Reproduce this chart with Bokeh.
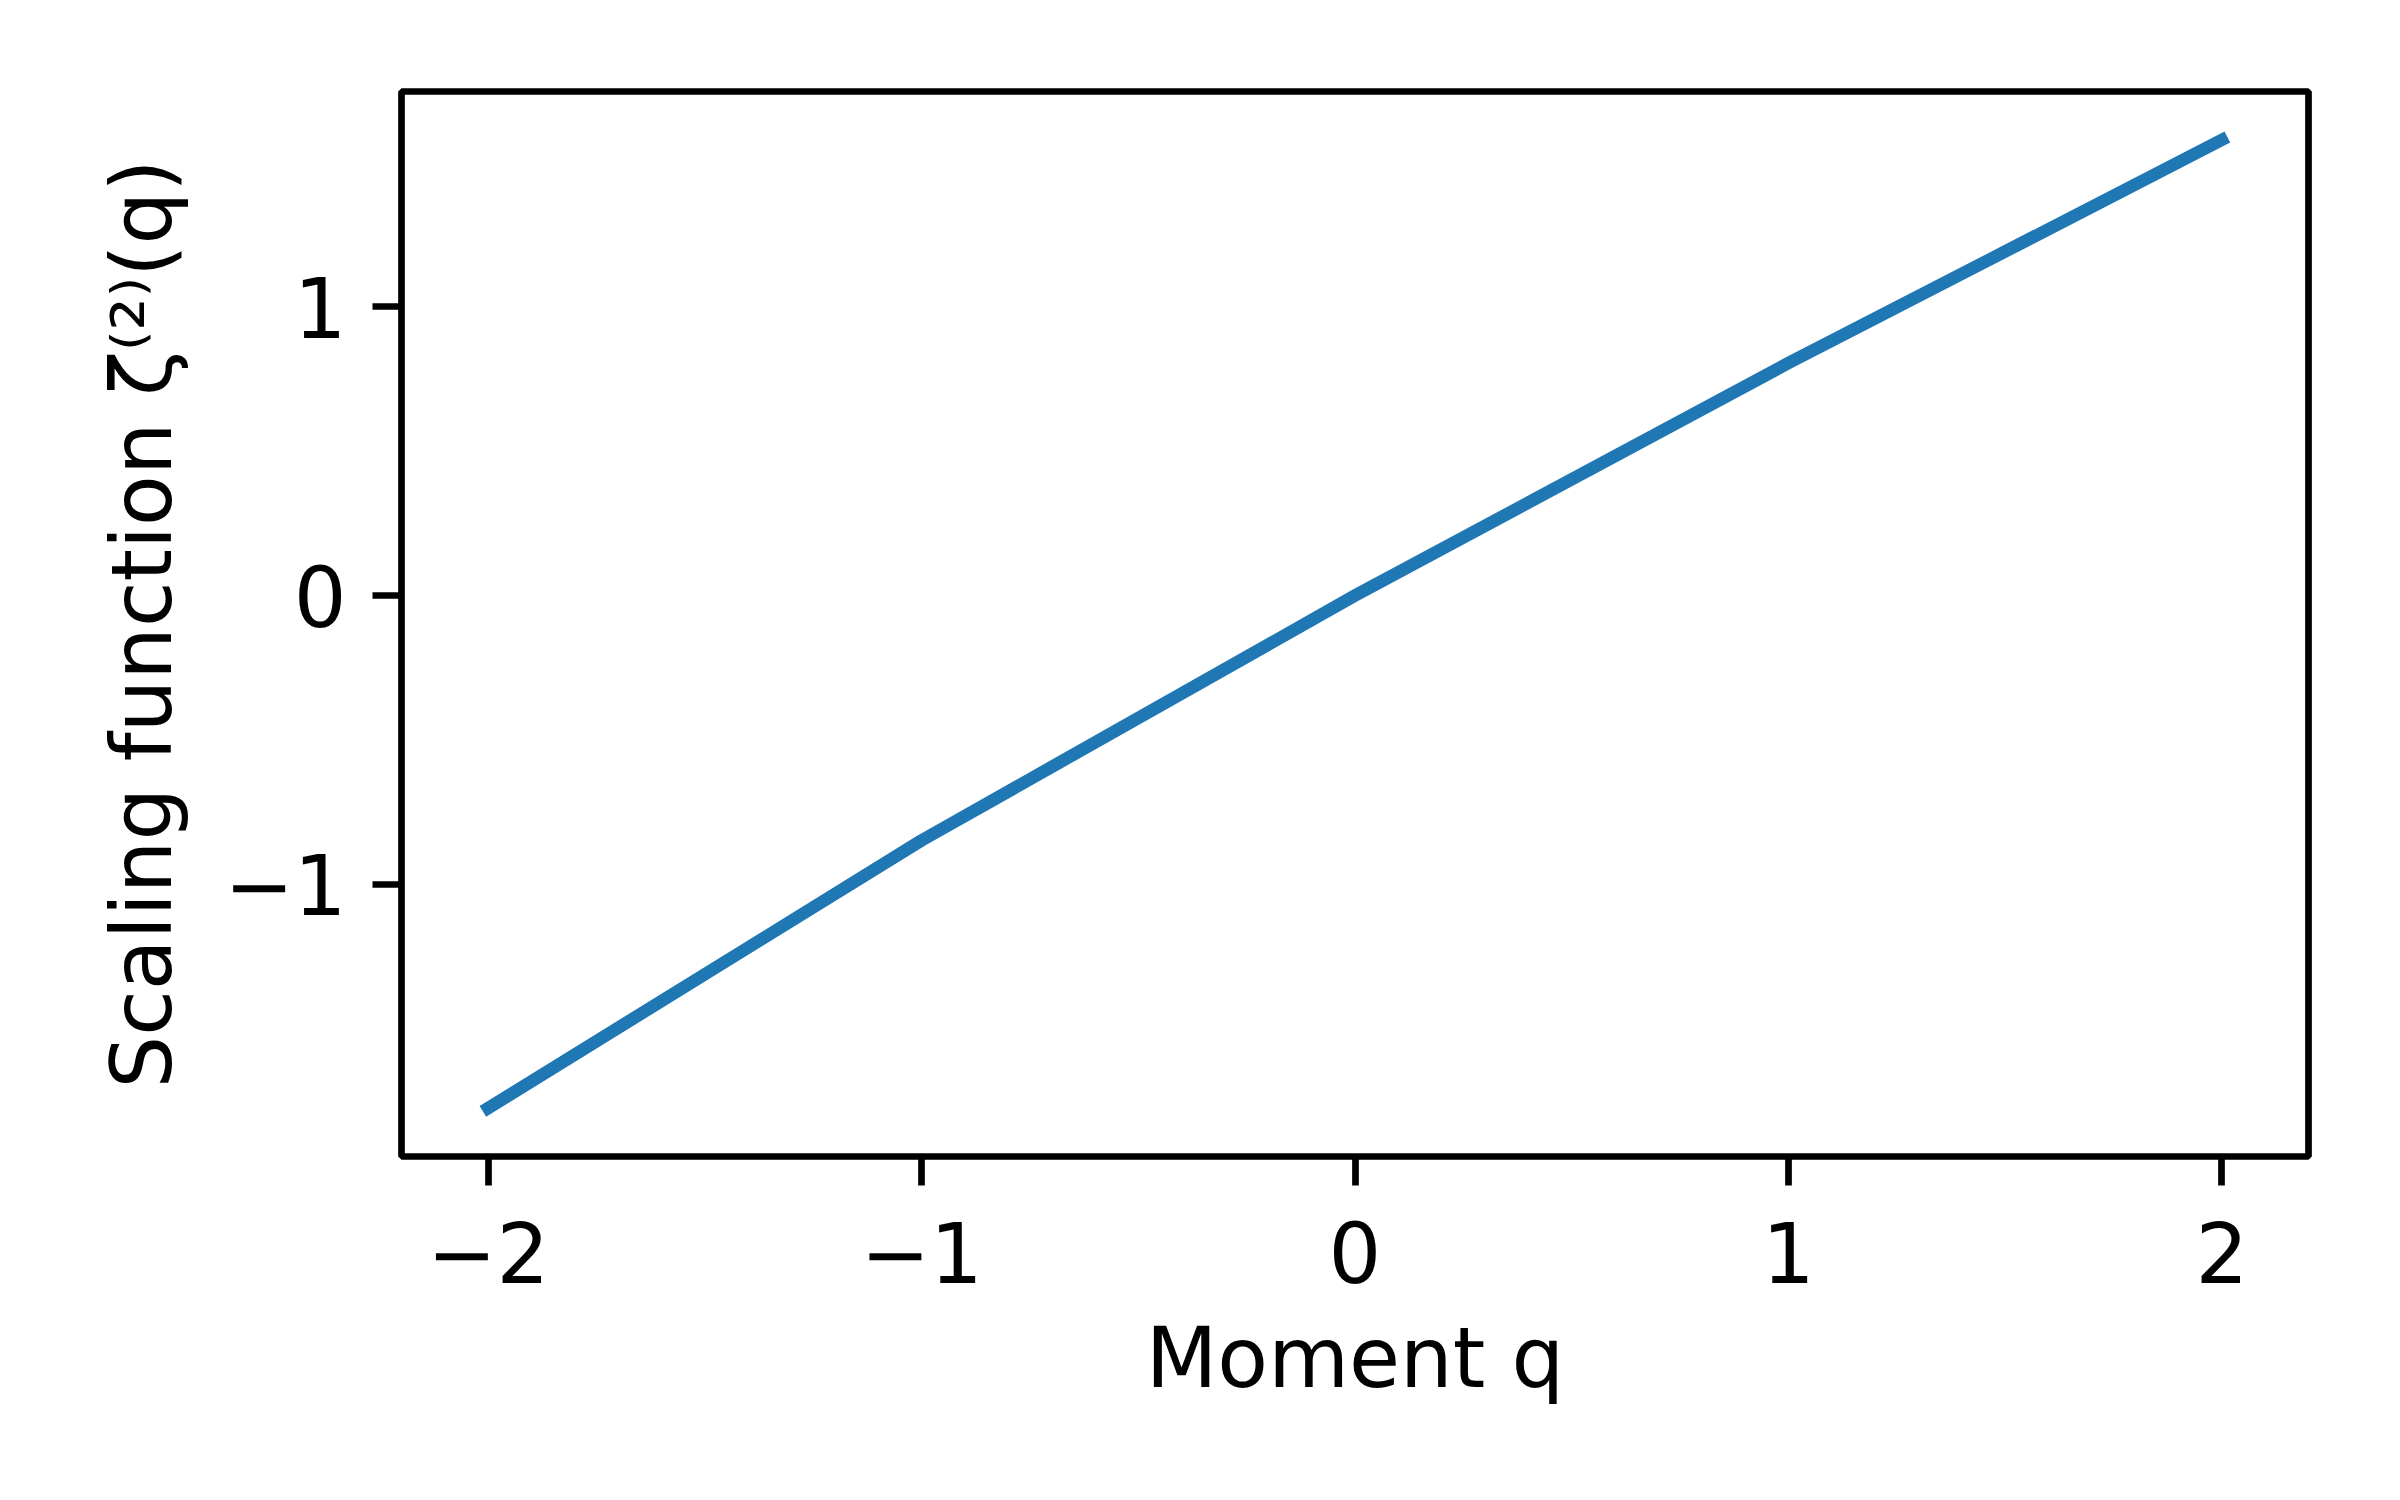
from bokeh.plotting import figure
from bokeh.models import Range1d, FixedTicker
from bokeh.embed import file_html
from bokeh.resources import INLINE

# Data
q_values = [-2, -1, 0, 1, 2]
zeta_values = [-1.775, -0.848, 0.0, 0.805, 1.578]
x_ticks = [-2, -1, 0, 1, 2]
y_ticks = [-1, 0, 1]
x_label = "Moment q"
y_label = "Scaling function \u03b6\u207d\u00b2\u207e(q)"

def fmt(v):
    return ("\u2212" + str(abs(v))) if v < 0 else str(v)

W, H = 2384, 1480
FONT = "DejaVu Sans"
FS = "83px"
LW = 6.7

ymin, ymax = min(zeta_values), max(zeta_values)
ym = 0.05 * (ymax - ymin)
xmin, xmax = min(q_values), max(q_values)
xm = 0.05 * (xmax - xmin)

p = figure(width=W, height=H, output_backend="svg", toolbar_location=None,
           x_range=Range1d(xmin - xm, xmax + xm),
           y_range=Range1d(ymin - ym, ymax + ym),
           min_border_left=401, min_border_right=76,
           min_border_top=91, min_border_bottom=324)
p.background_fill_color = "white"
p.border_fill_color = "white"
p.grid.visible = False
p.outline_line_color = "black"
p.outline_line_width = LW

p.line(q_values, zeta_values, line_color="#1f77b4", line_width=12.5,
       line_cap="square", line_join="round")

for ax, ticks, lab in ((p.xaxis, x_ticks, x_label), (p.yaxis, y_ticks, y_label)):
    ax.ticker = FixedTicker(ticks=ticks)
    ax.major_label_overrides = {t: fmt(t) for t in ticks}
    ax.axis_line_color = None
    ax.major_tick_out = 29
    ax.major_tick_in = 0
    ax.major_tick_line_width = LW
    ax.major_tick_line_color = "black"
    ax.minor_tick_out = 0
    ax.minor_tick_in = 0
    ax.minor_tick_line_color = None
    ax.major_label_text_font = FONT
    ax.major_label_text_font_size = FS
    ax.major_label_text_color = "black"
    ax.axis_label = lab
    ax.axis_label_text_font = FONT
    ax.axis_label_text_font_size = FS
    ax.axis_label_text_font_style = "normal"
    ax.axis_label_text_color = "black"

p.xaxis.major_label_standoff = 35
p.yaxis.major_label_standoff = 26
p.xaxis.axis_label_standoff = 24
p.yaxis.axis_label_standoff = 30

open("out.html", "w").write(file_html(p, INLINE))
